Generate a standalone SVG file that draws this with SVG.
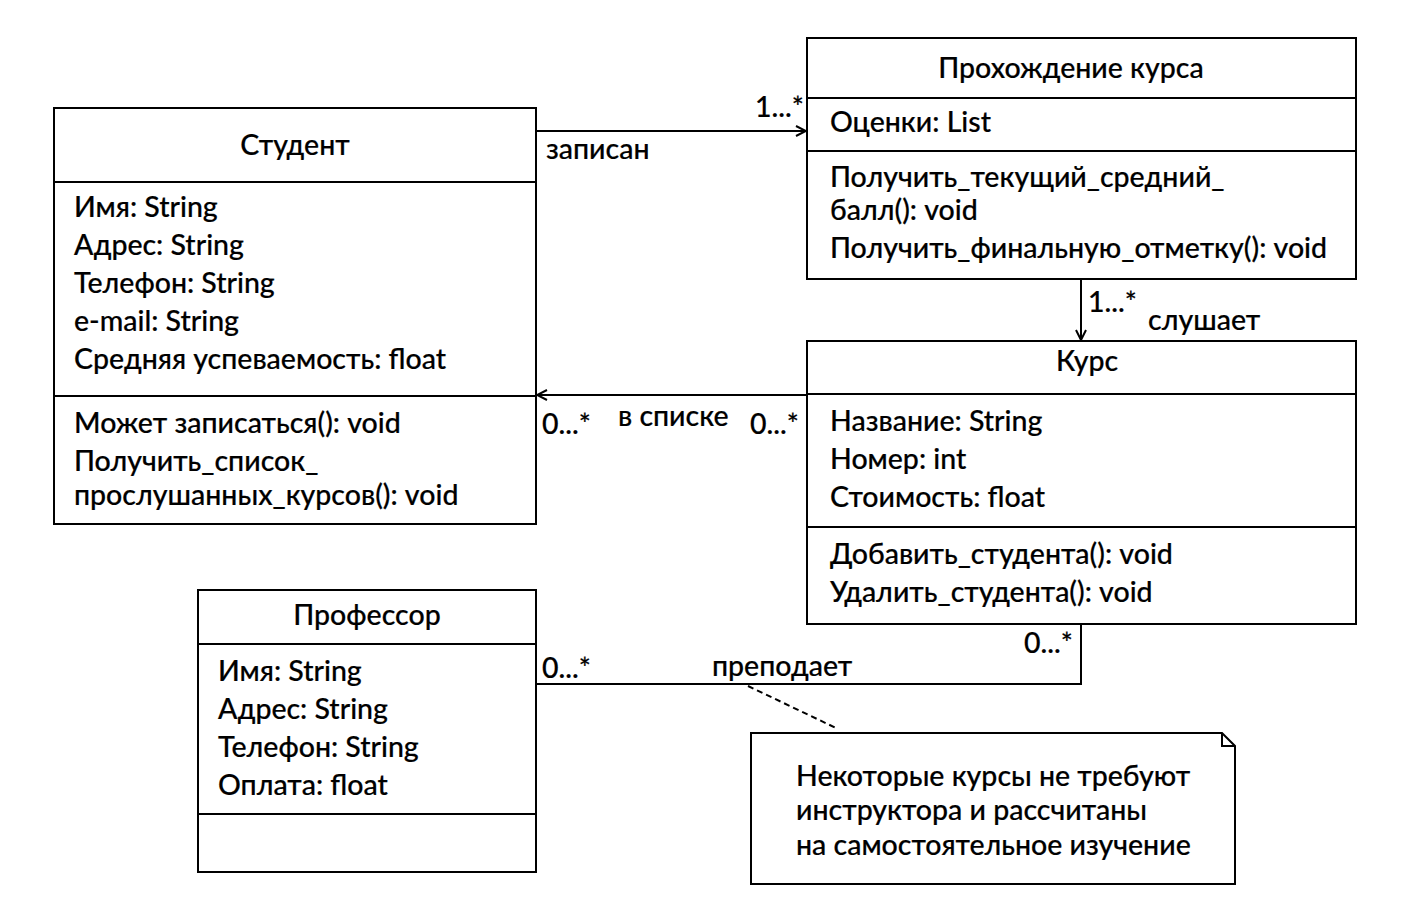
<svg xmlns="http://www.w3.org/2000/svg" width="1409" height="921" viewBox="0 0 1409 921">
<defs>
<style>
text{font-family:Lato,"Noto Sans",sans-serif;font-size:28.5px;font-weight:500;fill:#000;stroke:#000;stroke-width:0.2}
.t{text-anchor:middle}
.box{fill:#fff;stroke:#000;stroke-width:2}
.ln{stroke:#000;stroke-width:2;fill:none}
</style>
<marker id="arr" viewBox="0 0 12 12" refX="11" refY="6" markerWidth="12" markerHeight="12" markerUnits="userSpaceOnUse" orient="auto">
<path d="M1,1 L11,6 L1,11" fill="none" stroke="#000" stroke-width="2"/>
</marker>
</defs>
<rect width="1409" height="921" fill="#fff"/>
<g id="connectors">
<line class="ln" x1="536" y1="131" x2="806" y2="131" marker-end="url(#arr)"/>
<line class="ln" x1="1081" y1="279" x2="1081" y2="340" marker-end="url(#arr)"/>
<line class="ln" x1="807" y1="395" x2="537" y2="395" marker-end="url(#arr)"/>
<polyline class="ln" points="536,684 1081,684 1081,624"/>
<line x1="748" y1="686" x2="836" y2="728" stroke="#000" stroke-width="2" stroke-dasharray="6,4"/>
<text x="755" y="117">1...*</text>
<text x="546" y="159">записан</text>
<text x="1088" y="312">1...*</text>
<text x="1148" y="330">слушает</text>
<text x="542" y="434">0...*</text>
<text x="618" y="426">в списке</text>
<text x="750" y="434">0...*</text>
<text x="542" y="678">0...*</text>
<text x="712" y="676">преподает</text>
<text x="1024" y="653">0...*</text>
</g>
<g id="student">
<rect class="box" x="54" y="108" width="482" height="416"/>
<line class="ln" x1="54" y1="182" x2="536" y2="182"/>
<line class="ln" x1="54" y1="396" x2="536" y2="396"/>
<text class="t" x="295" y="155">Студент</text>
<text x="74" y="217">Имя: String</text>
<text x="74" y="255">Адрес: String</text>
<text x="74" y="293">Телефон: String</text>
<text x="74" y="331">e-mail: String</text>
<text x="74" y="369">Средняя успеваемость: float</text>
<text x="74" y="433">Может записаться(): void</text>
<text x="74" y="471">Получить_список_</text>
<text x="74" y="505">прослушанных_курсов(): void</text>
</g>
<g id="enrollment">
<rect class="box" x="807" y="38" width="549" height="241"/>
<line class="ln" x1="807" y1="98" x2="1356" y2="98"/>
<line class="ln" x1="807" y1="151" x2="1356" y2="151"/>
<text class="t" x="1071" y="78">Прохождение курса</text>
<text x="830" y="132">Оценки: List</text>
<text x="830" y="187">Получить_текущий_средний_</text>
<text x="830" y="220">балл(): void</text>
<text x="830" y="258">Получить_финальную_отметку(): void</text>
</g>
<g id="course">
<rect class="box" x="807" y="341" width="549" height="283"/>
<line class="ln" x1="807" y1="394" x2="1356" y2="394"/>
<line class="ln" x1="807" y1="527" x2="1356" y2="527"/>
<text class="t" x="1087" y="371">Курс</text>
<text x="830" y="431">Название: String</text>
<text x="830" y="469">Номер: int</text>
<text x="830" y="507">Стоимость: float</text>
<text x="830" y="564">Добавить_студента(): void</text>
<text x="830" y="602">Удалить_студента(): void</text>
</g>
<g id="professor">
<rect class="box" x="198" y="590" width="338" height="282"/>
<line class="ln" x1="198" y1="644" x2="536" y2="644"/>
<line class="ln" x1="198" y1="814" x2="536" y2="814"/>
<text class="t" x="367" y="625">Профессор</text>
<text x="218" y="681">Имя: String</text>
<text x="218" y="719">Адрес: String</text>
<text x="218" y="757">Телефон: String</text>
<text x="218" y="795">Оплата: float</text>
</g>
<g id="note">
<path class="box" d="M751,733 L1222,733 L1235,746 L1235,884 L751,884 Z"/>
<path class="ln" d="M1222,733 L1222,746 L1235,746"/>
<text x="796" y="786">Некоторые курсы не требуют</text>
<text x="796" y="820">инструктора и рассчитаны</text>
<text x="796" y="855">на самостоятельное изучение</text>
</g>
</svg>
